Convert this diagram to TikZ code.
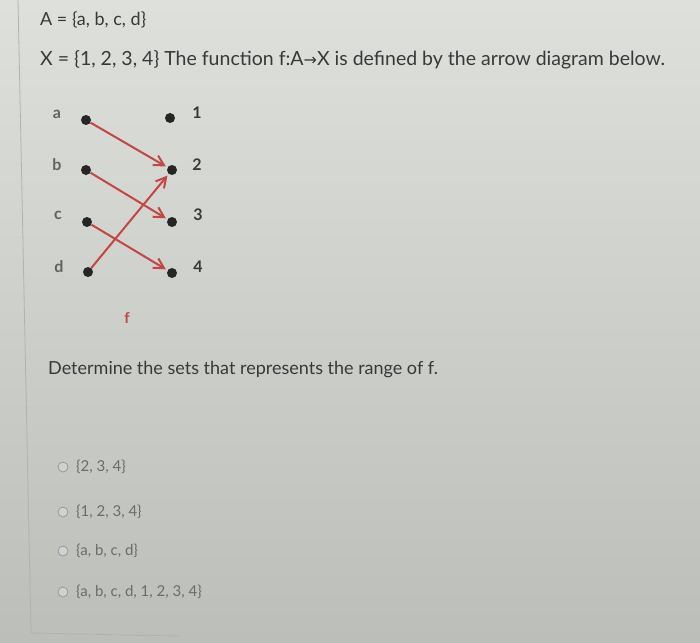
\documentclass[tikz,border=0pt]{standalone}
\usepackage{fontspec}
\setmainfont{Lato}
\newfontfamily\symfont{DejaVu Sans}
\usetikzlibrary{arrows.meta}
\definecolor{bgtop}{RGB}{222,224,220}
\definecolor{bgbot}{RGB}{188,190,186}
\definecolor{txt}{RGB}{55,57,58}
\definecolor{opt}{RGB}{105,108,108}
\definecolor{lbl}{RGB}{95,98,98}
\definecolor{arr}{RGB}{196,70,68}
\begin{document}
\begin{tikzpicture}[x=1pt,y=-1pt,
  dot/.style={circle,fill=black!85,inner sep=0pt,minimum size=10pt},
  maintext/.style={anchor=west,inner sep=0pt,text=txt,font=\fontsize{19.5}{22}\selectfont},
  lab/.style={inner sep=0pt,text=lbl,font=\fontsize{16}{18}\selectfont\bfseries},
  optext/.style={anchor=west,inner sep=0pt,text=opt,font=\fontsize{15}{18}\selectfont},
  radio/.style={circle,draw=black!40,fill=black!18,line width=0.8pt,inner sep=0pt,minimum size=10pt},
  maparrow/.style={draw=arr,line width=2pt,-{Straight Barb[length=10pt,width=11pt]},shorten >=2pt,shorten <=0pt}]
\shade[top color=bgtop,bottom color=bgbot] (0,0) rectangle (700,642);
\useasboundingbox (0,0) rectangle (700,642);
\draw[black!30,line width=0.8pt] (18,0) -- (31,633) -- (180,636);
\node[maintext,font=\fontsize{18}{21}\selectfont] (tA) at (40,20) {A = \{a, b, c, d\}};
\node[maintext] (tX) at (40,60) {X = \{1, 2, 3, 4\} The function f:A{\symfont\fontsize{16}{18}\selectfont →}X is defined by the arrow diagram below.};
% domain
\node[dot] (a) at (86,120) {};
\node[dot] (b) at (86,170) {};
\node[dot] (c) at (87,222) {};
\node[dot] (d) at (88,272) {};
\node[dot] (n1) at (170,118) {};
\node[dot] (n2) at (172,170) {};
\node[dot] (n3) at (172,222) {};
\node[dot] (n4) at (172,273) {};
\node[lab] (la) at (57,114) {a};
\node[lab] (lb) at (57,165) {b};
\node[lab] (lc) at (58,215) {c};
\node[lab] (ld) at (59,267) {d};
\node[lab,text=txt] (l1) at (197,113) {1};
\node[lab,text=txt] (l2) at (197,165) {2};
\node[lab,text=txt] (l3) at (198,215) {3};
\node[lab,text=txt] (l4) at (198,267) {4};
\path[maparrow] (a) -- (n2);
\path[maparrow] (b) -- (n3);
\path[maparrow] (c) -- (n4);
\path[maparrow] (d) -- (n2);
\node[inner sep=0pt,text=arr,font=\fontsize{15}{17}\selectfont\bfseries] (f) at (127,318) {f};
\node[maintext,font=\fontsize{18}{21}\selectfont] (q) at (48,370) {Determine the sets that represents the range of f.};
\node[radio] (r1) at (63,467) {};
\node[radio] (r2) at (63,512) {};
\node[radio] (r3) at (63,551) {};
\node[radio] (r4) at (63,592) {};
\node[optext] (o1) at (76,467) {\{2, 3, 4\}};
\node[optext] (o2) at (76,512) {\{1, 2, 3, 4\}};
\node[optext] (o3) at (76,551) {\{a, b, c, d\}};
\node[optext] (o4) at (76,592) {\{a, b, c, d, 1, 2, 3, 4\}};
\end{tikzpicture}
\end{document}
